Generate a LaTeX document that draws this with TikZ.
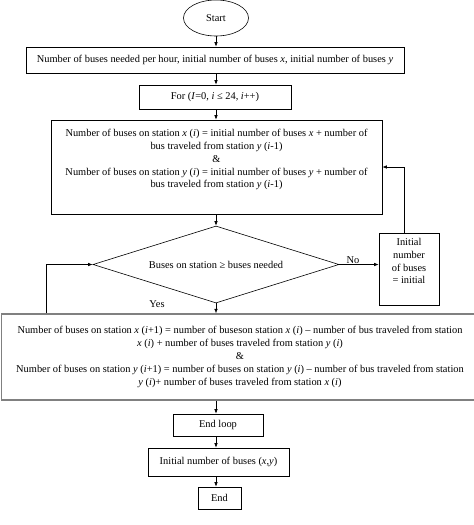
\documentclass[tikz,border=0pt]{standalone}
\usepackage{fontspec}
\setmainfont{Liberation Serif}
\usetikzlibrary{shapes.geometric,arrows.meta}
\begin{document}
\begin{tikzpicture}[x=1pt,y=-1pt,
  box/.style={draw,line width=0.6pt,font=\fontsize{10.4}{12.8}\selectfont,align=center,inner sep=0pt},
  flow/.style={-{Latex[length=4.5pt,width=3.5pt]},line width=0.6pt},
  lbl/.style={font=\fontsize{10.4}{12}\selectfont,inner sep=1pt}]
\useasboundingbox (0,0) rectangle (474,525);
\node[box,ellipse,minimum width=65,minimum height=36] (start) at (216,18) {Start};
\node[box,minimum width=378,minimum height=26] (needs) at (215,60) {Number of buses needed per hour, initial number of buses \textit{x}, initial number of buses \textit{y}};
\node[box,minimum width=152,minimum height=24] (loop) at (215,97) {For (\textit{I}=0, \textit{i} ≤ 24, \textit{i}++)};
\node[box,minimum width=331,minimum height=94] (count) at (216.5,167) {Number of buses on station \textit{x} (\textit{i}) = initial number of buses \textit{x} + number of\\
bus traveled from station \textit{y} (\textit{i}-1)\\
\&\\
Number of buses on station \textit{y} (\textit{i}) = initial number of buses \textit{y} + number of\\
bus traveled from station \textit{y} (\textit{i}-1)\\[4pt]};
\node[box,diamond,aspect=3.2,minimum width=246,minimum height=77] (check) at (216,264.5) {Buses on station ≥ buses needed};
\node[box,minimum width=60,minimum height=72] (reset) at (409,269) {Initial\\number\\of buses\\= initial\\[3pt]};
\node[box,draw=gray,line width=1.2pt,minimum width=477,minimum height=86] (update) at (240,357) {Number of buses on station \textit{x} (\textit{i}+1) = number of buseson station \textit{x} (\textit{i}) -- number of bus traveled from station\\
\textit{x} (\textit{i}) + number of buses traveled from station \textit{y} (\textit{i})\\
\&\\
Number of buses on station \textit{y} (\textit{i}+1) = number of buses on station \textit{y} (\textit{i}) -- number of bus traveled from station\\
\textit{y} (\textit{i})+ number of buses traveled from station \textit{x} (\textit{i})};
\node[box,minimum width=90,minimum height=22] (endloop) at (218,425) {End loop};
\node[box,minimum width=141,minimum height=28] (result) at (218.5,462) {Initial number of buses (\textit{x},\textit{y})};
\node[box,minimum width=43,minimum height=22] (stop) at (219.5,498) {End};
\node[lbl] (yes) at (157,304) {Yes};
\coordinate (spine) at (216,0);
\coordinate (back) at (46,0);
% main line
\foreach \a/\b in {start/needs,needs/loop,loop/count,count/check,check/update,update/endloop,endloop/result,result/stop}
  \draw[flow] (\a.south -| spine) -- (\b.north -| spine);
% branches
\draw[flow] (check.east) -- (check.east -| reset.west) node[lbl,pos=0.35,above] {No};
\draw[flow] ([xshift=-5pt]reset.north) |- (count.east);
\draw[flow] (update.north -| back) |- (check.west);
\end{tikzpicture}
\end{document}
